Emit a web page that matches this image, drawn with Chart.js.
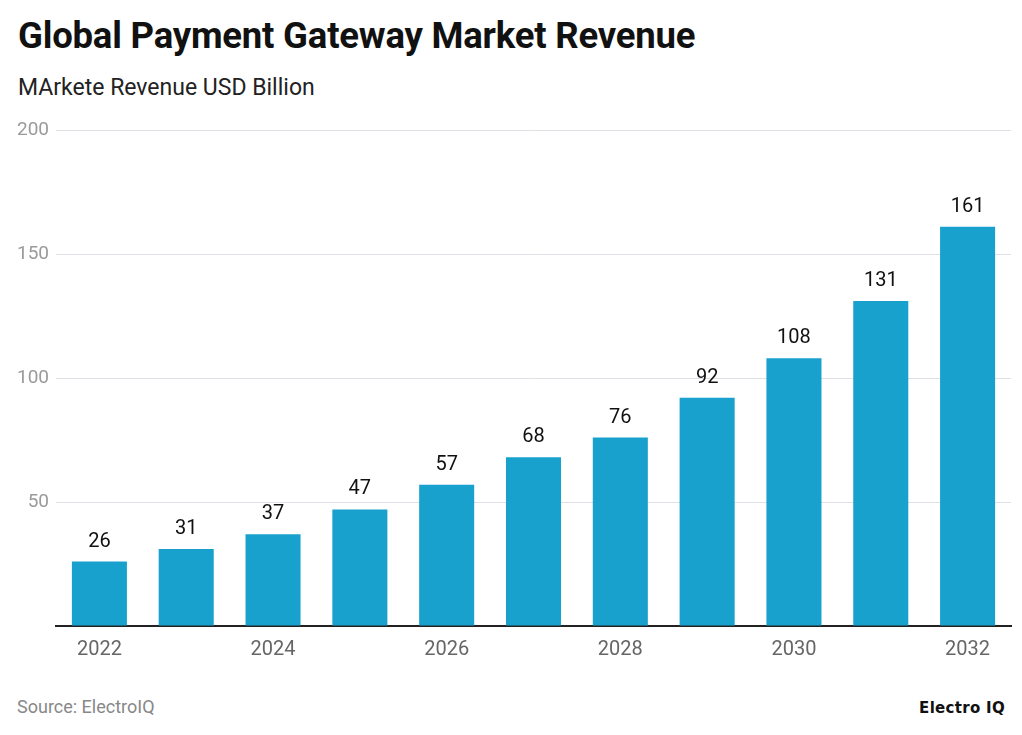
<!DOCTYPE html>
<html>
<head>
<meta charset="utf-8">
<script src="https://cdn.jsdelivr.net/npm/chart.js@4"></script>
<style>
  html, body { margin: 0; padding: 0; background: #fff; }
  body { width: 1022px; height: 735px; position: relative; overflow: hidden; font-family: Roboto, "Noto Sans", sans-serif; }
  #title { position: absolute; left: 18px; top: 14px; font-size: 36.5px; font-weight: 700; color: #111; white-space: nowrap; letter-spacing: -0.2px; }
  #subtitle { position: absolute; left: 18px; top: 74px; font-size: 23px; color: #222; white-space: nowrap; }
  #source { position: absolute; left: 17px; top: 696px; font-size: 18px; color: #888; white-space: nowrap; }
  #logo { position: absolute; right: 17px; top: 699px; font-size: 15px; font-weight: 900; color: #111; font-family: "DejaVu Sans", sans-serif; white-space: nowrap; letter-spacing: 0.3px; }
  #wrap { position: absolute; left: 0; top: 110px; width: 1022px; height: 560px; }
</style>
</head>
<body>
<div id="title">Global Payment Gateway Market Revenue</div>
<div id="subtitle">MArkete Revenue USD Billion</div>
<div id="wrap"><canvas id="c"></canvas></div>
<div id="source">Source: ElectroIQ</div>
<div id="logo">Electro IQ</div>
<script>
const years = ["2022","2023","2024","2025","2026","2027","2028","2029","2030","2031","2032"];
const revenue = [26, 31, 37, 47, 57, 68, 76, 92, 108, 131, 161];
const yTicks = [0, 50, 100, 150, 200];

const valueLabels = {
  id: 'valueLabels',
  afterDatasetsDraw(chart) {
    const ctx = chart.ctx;
    const meta = chart.getDatasetMeta(0);
    ctx.save();
    ctx.font = '20px Roboto, "Noto Sans", sans-serif';
    ctx.fillStyle = '#111';
    ctx.textAlign = 'center';
    ctx.textBaseline = 'middle';
    meta.data.forEach((bar, i) => {
      ctx.fillText(String(revenue[i]), bar.x, bar.y - 20);
    });
    ctx.restore();
  }
};

new Chart(document.getElementById('c'), {
  type: 'bar',
  data: {
    labels: years,
    datasets: [{
      data: revenue,
      backgroundColor: '#19a1cd',
      borderWidth: 0,
      barPercentage: 0.634,
      categoryPercentage: 1.0
    }]
  },
  options: {
    responsive: true,
    maintainAspectRatio: false,
    animation: false,
    layout: { padding: { top: 20, right: 11, left: 0, bottom: 0 } },
    plugins: { legend: { display: false }, tooltip: { enabled: false } },
    scales: {
      x: {
        grid: { display: false, drawTicks: false },
        border: { display: true, color: '#222', width: 2 },
        ticks: {
          autoSkip: false,
          maxRotation: 0,
          padding: 12,
          color: '#666',
          font: { size: 20, family: 'Roboto, "Noto Sans", sans-serif' },
          callback: function(v, i) { return i % 2 === 0 ? years[i] : ''; }
        },
        afterFit(scale) { scale.height = 44; }
      },
      y: {
        min: 0, max: 200,
        afterBuildTicks(scale) { scale.ticks = yTicks.map(v => ({ value: v })); },
        grid: { color: '#dde0e4', lineWidth: 1, drawTicks: false },
        border: { display: false },
        ticks: {
          padding: 7,
          color: '#9a9a9a',
          font: { size: 19, family: 'Roboto, "Noto Sans", sans-serif' },
          callback: function(v) { return v === 0 ? '' : v; }
        },
        afterFit(scale) { scale.width = 56; }
      }
    }
  },
  plugins: [valueLabels]
});
</script>
</body>
</html>
